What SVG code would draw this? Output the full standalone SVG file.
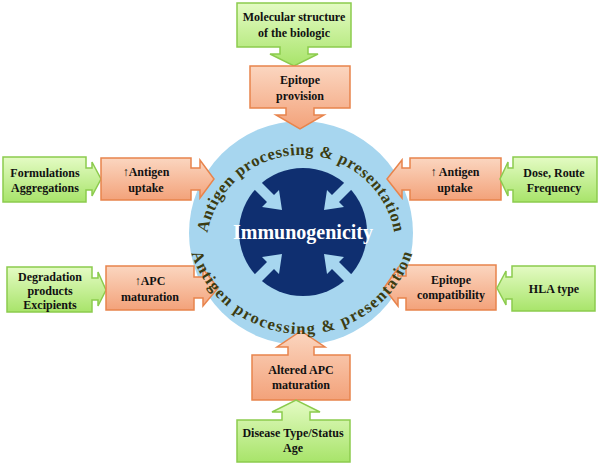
<svg xmlns="http://www.w3.org/2000/svg" width="600" height="467" viewBox="0 0 600 467">
<defs>
<linearGradient id="g" x1="0" y1="0" x2="0" y2="1"><stop offset="0" stop-color="#e4fbc4"/><stop offset="1" stop-color="#a8e46a"/></linearGradient>
<linearGradient id="o" x1="0" y1="0" x2="0" y2="1"><stop offset="0" stop-color="#fbd6c0"/><stop offset="1" stop-color="#f3a27a"/></linearGradient>
<path id="arcTop" d="M 206 250 A 95 95 0 0 1 396 250"/>
<path id="arcBot" d="M 198 218 A 104 104 0 0 0 406 218"/>
<polygon id="ia" points="282,210 262,207 267,202 250,185 257,178 274,195 279,190" fill="#a7d6ef"/>
</defs>
<style>
.gr{fill:url(#g);stroke:#8ccb4e;stroke-width:1.5}
.or{fill:url(#o);stroke:#e8844c;stroke-width:1.5}
.t{font-family:"Liberation Serif",serif;font-weight:bold;font-size:12px;fill:#111;text-anchor:middle}
.c{font-family:"Liberation Serif",serif;font-weight:bold;font-size:16.5px;fill:#3b3c12}
</style>
<g id="connectors"/>
<g id="center-bg">
<circle cx="301" cy="233" r="112" fill="#a7d6ef"/>
<circle cx="303" cy="232" r="64" fill="#0f2f70"/>
<use href="#ia"/>
<use href="#ia" transform="translate(606,0) scale(-1,1)"/>
<use href="#ia" transform="translate(0,464) scale(1,-1)"/>
<use href="#ia" transform="translate(606,464) scale(-1,-1)"/>
</g>
<g id="n-molecular"><path class="gr" d="M237 3 H351 V47 H308 V54 H318 L294 66 L270 54 H280 V47 H237 Z"/><text class="t" x="294" y="21">Molecular structure</text><text class="t" x="294" y="37">of the biologic</text></g>
<g id="n-epitope"><path class="or" d="M250 66 H350 V108 H314 V115 H324 L300 129 L276 115 H286 V108 H250 Z"/><text class="t" x="300" y="84">Epitope</text><text class="t" x="300" y="100">provision</text></g>
<g id="n-form"><path class="gr" d="M3 157 H86 V168 H92 V162 L101 179 L92 196 V190 H86 V202 H3 Z"/><text class="t" x="45" y="177">Formulations</text><text class="t" x="45" y="192">Aggregations</text></g>
<g id="n-uptakeL"><path class="or" d="M101 158 H191 V168 H200 V160 L214 179 L200 198 V190 H191 V200 H101 Z"/><text class="t" x="146" y="176">↑Antigen</text><text class="t" x="146" y="192">uptake</text></g>
<g id="n-degr"><path class="gr" d="M7 267 H92 V278 H98 V272 L106 290 L98 306 V300 H92 V312 H7 Z"/><text class="t" x="50" y="281">Degradation</text><text class="t" x="50" y="295">products</text><text class="t" x="50" y="309">Excipients</text></g>
<g id="n-apcL"><path class="or" d="M106 266 H194 V277 H203 V269 L218 288 L203 306 V298 H194 V310 H106 Z"/><text class="t" x="150" y="285">↑APC</text><text class="t" x="150" y="301">maturation</text></g>
<g id="n-uptakeR"><path class="or" d="M501 158 H410 V168 H402 V160 L387 179 L402 198 V190 H410 V200 H501 Z"/><text class="t" x="455" y="176">↑ Antigen</text><text class="t" x="455" y="192">uptake</text></g>
<g id="n-dose"><path class="gr" d="M597 157 H513 V168 H508 V162 L500 179 L508 196 V190 H513 V202 H597 Z"/><text class="t" x="554" y="177">Dose, Route</text><text class="t" x="554" y="192">Frequency</text></g>
<g id="n-epiR"><path class="or" d="M496 265 H406 V276 H398 V268 L384 288 L398 306 V298 H406 V310 H496 Z"/><text class="t" x="451" y="284">Epitope</text><text class="t" x="451" y="299">compatibility</text></g>
<g id="n-hla"><path class="gr" d="M595 266 H512 V277 H506 V271 L497 288 L506 305 V299 H512 V311 H595 Z"/><text class="t" x="554" y="293">HLA type</text></g>
<g id="n-altered"><path class="or" d="M252 400 H350 V355 H314 V347 H325 L301 331 L277 347 H288 V355 H252 Z"/><text class="t" x="301" y="374">Altered APC</text><text class="t" x="301" y="389">maturation</text></g>
<g id="n-disease"><path class="gr" d="M237 462 H350 V420 H310 V412 H320 L296 400 L272 412 H282 V420 H237 Z"/><text class="t" x="293" y="437">Disease Type/Status</text><text class="t" x="293" y="452">Age</text></g>
<g id="center-text">
<text x="303" y="239" font-family="Liberation Serif,serif" font-weight="bold" font-size="20" fill="#fff" text-anchor="middle">Immunogenicity</text>
<text class="c" letter-spacing="0.6"><textPath href="#arcTop" startOffset="50%" text-anchor="middle">Antigen processing &amp; presentation</textPath></text>
<text class="c" letter-spacing="0.6"><textPath href="#arcBot" startOffset="50%" text-anchor="middle" dominant-baseline="hanging">Antigen processing &amp; presentation</textPath></text>
</g>
</svg>
